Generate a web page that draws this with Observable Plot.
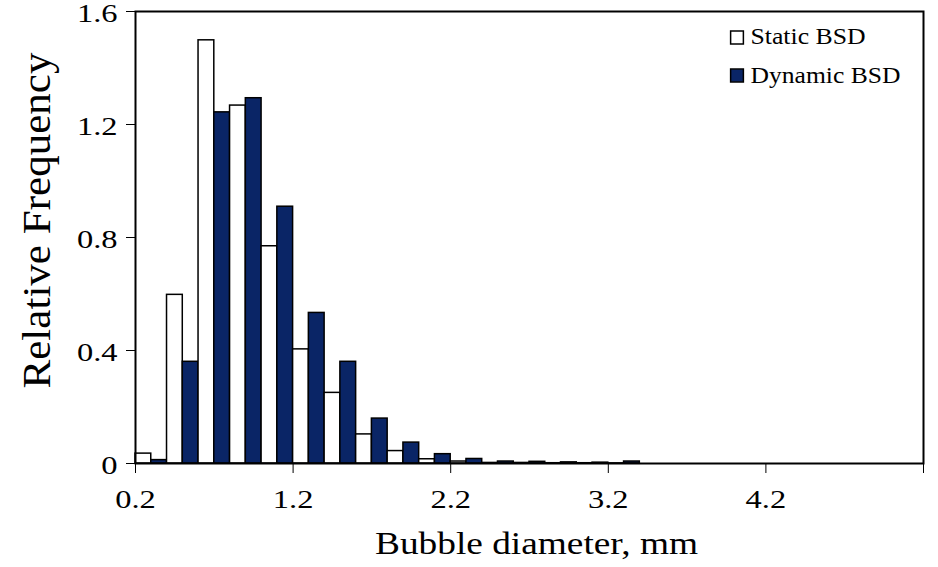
<!DOCTYPE html>
<html><head><meta charset="utf-8">
<script src="https://cdn.jsdelivr.net/npm/d3@7"></script>
<script src="https://cdn.jsdelivr.net/npm/@observablehq/plot@0.6"></script>
<style>body{margin:0;background:#fff;}</style>
</head><body><div id="chart"></div>
<script>
// Bin starts (mm), each bin 0.2 mm wide
const binStarts = [0.2, 0.4, 0.6, 0.8, 1.0, 1.2, 1.4, 1.6, 1.8, 2.0, 2.2, 2.4, 2.6, 2.8, 3.0, 3.2];
const staticBSD  = [0.035, 0.597, 1.498, 1.267, 0.769, 0.404, 0.250, 0.103, 0.044, 0.015, 0.007, 0.002, 0.002, 0.001, 0.001, 0.0005];
const dynamicBSD = [0.012, 0.360, 1.243, 1.293, 0.909, 0.533, 0.360, 0.159, 0.074, 0.033, 0.016, 0.007, 0.006, 0.004, 0.003, 0.007];
const binWidth = 0.2;
const xDomain = [0.2, 5.2];
const yDomain = [0, 1.6];
const xTicks = [0.2, 1.2, 2.2, 3.2, 4.2, 5.2];
const xTickLabels = ["0.2", "1.2", "2.2", "3.2", "4.2", ""];
const yTicks = [0, 0.4, 0.8, 1.2, 1.6];
const yTickLabels = ["0", "0.4", "0.8", "1.2", "1.6"];
const seriesNames = ["Static BSD", "Dynamic BSD"];
const seriesColors = ["#ffffff", "#0a2566"];
const xTitle = "Bubble diameter, mm";
const yTitle = "Relative Frequency";

const rows = binStarts.flatMap((b, i) => [
  {series: seriesNames[0], x1: b, x2: b + binWidth / 2, y: staticBSD[i]},
  {series: seriesNames[1], x1: b + binWidth / 2, x2: b + binWidth, y: dynamicBSD[i]}
]);

const font = "'Liberation Serif', 'Times New Roman', serif";

const legendMarks = seriesNames.flatMap((name, i) => [
  Plot.dot([name], {frameAnchor: "top-right", dx: -186.5, dy: 26 + 38 * i, symbol: "square", r: 7.2,
    fill: d => d, stroke: "black", strokeWidth: 1.5}),
  Plot.text([name], {frameAnchor: "top-right", dx: -173, dy: 32 + 39 * i, textAnchor: "start",
    lineAnchor: "bottom", fontSize: 23, fill: "black"})
]);

const svg = Plot.plot({
  width: 938, height: 567,
  marginLeft: 135, marginRight: 15, marginTop: 11, marginBottom: 104,
  style: {fontFamily: font, background: "white", color: "black"},
  x: {domain: xDomain},
  y: {domain: yDomain},
  color: {domain: seriesNames, range: seriesColors},
  marks: [
    Plot.rect(rows, {x1: "x1", x2: "x2", y1: 0, y2: "y", fill: "series", stroke: "black", strokeWidth: 1.5}),
    Plot.frame({stroke: "black", strokeWidth: 2}),
    Plot.axisX({ticks: xTicks, tickFormat: d => xTickLabels[xTicks.indexOf(d)], tickSize: 10, tickPadding: 17,
      fontSize: 25, label: null, stroke: "black", strokeWidth: 1}),
    Plot.axisY({ticks: yTicks, tickFormat: d => yTickLabels[yTicks.indexOf(d)], tickSize: 9, tickPadding: 9,
      fontSize: 25, label: null, stroke: "black", strokeWidth: 1}),
    Plot.text([xTitle], {frameAnchor: "bottom", dx: 7, dy: 90, textAnchor: "middle", lineAnchor: "bottom", fontSize: 32, fill: "black"}),
    Plot.text([yTitle], {frameAnchor: "left", dx: -85.5, dy: -17, rotate: -90, textAnchor: "middle", lineAnchor: "bottom", fontSize: 40, fill: "black"}),
    ...legendMarks
  ]
});
document.getElementById("chart").appendChild(svg);

// Nudge y tick labels down slightly (as in the reference) so the top label is not clipped
d3.select(svg).selectAll("g[aria-label='y-axis tick label'] text").each(function() {
  this.setAttribute("transform", (this.getAttribute("transform") || "") + " translate(0,2)");
});

// Match the reference's wide glyph rendering
const targets = {[xTitle]: 323, [yTitle]: 336, [seriesNames[0]]: 115, [seriesNames[1]]: 150};
d3.select(svg).selectAll("g[aria-label$='tick label'] text").each(function() {
  const w = this.getComputedTextLength();
  if (w > 0) { this.setAttribute("textLength", (w * 1.3).toFixed(1)); this.setAttribute("lengthAdjust", "spacingAndGlyphs"); }
});
d3.select(svg).selectAll("text").each(function() {
  const t = this.textContent;
  if (targets[t]) { this.setAttribute("textLength", targets[t]); this.setAttribute("lengthAdjust", "spacingAndGlyphs"); }
});
</script>
</body></html>
